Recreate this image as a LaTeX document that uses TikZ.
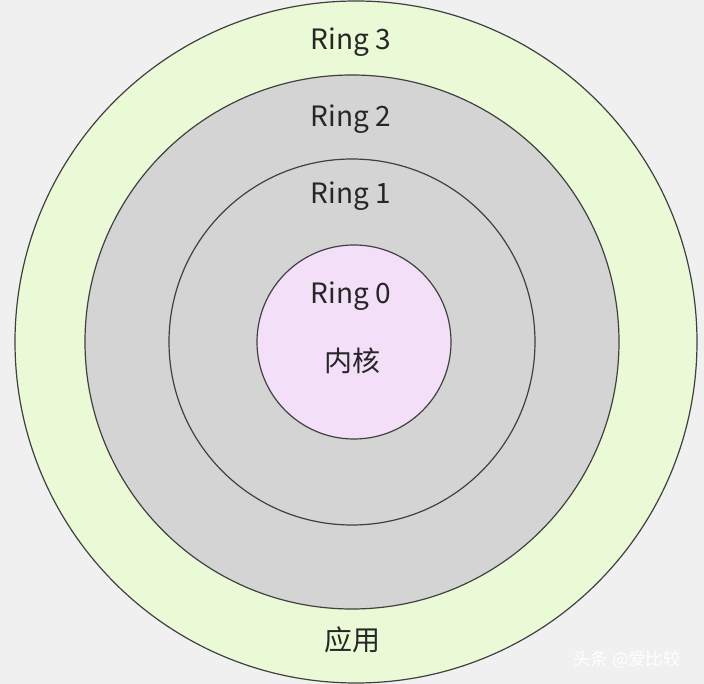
\documentclass[tikz,border=0pt]{standalone}
\usepackage{fontspec}
\setmainfont{Noto Sans CJK SC}
\begin{document}
\begin{tikzpicture}[x=0.75pt,y=-0.75pt,
  ring/.style={draw=black!75,line width=0.9pt},
  lbl/.style={font=\fontsize{21}{24}\selectfont,text=black!85}]
\useasboundingbox (0,0) rectangle (704,684);
\fill[black!6] (0,0) rectangle (704,684);
\node[ring,circle,fill={rgb,255:red,234;green,249;blue,214},minimum size=682*0.75pt,inner sep=0] (r3) at (356,342) {};
\node[ring,circle,fill={rgb,255:red,212;green,212;blue,212},minimum size=534*0.75pt,inner sep=0] (r2) at (352,342) {};
\node[ring,circle,fill={rgb,255:red,212;green,212;blue,212},minimum size=366*0.75pt,inner sep=0] (r1) at (352,342) {};
\node[ring,circle,fill={rgb,255:red,243;green,224;blue,248},minimum size=194*0.75pt,inner sep=0] (r0) at (354,342) {};
\node[lbl] (t3) at (351,42) {Ring 3};
\node[lbl] (t2) at (351,119) {Ring 2};
\node[lbl] (t1) at (351,196) {Ring 1};
\node[lbl] (t0) at (351,296) {Ring 0};
\node[lbl] (k) at (352,361) {内核};
\node[lbl] (app) at (352,640) {应用};
\node[font=\fontsize{13}{15}\selectfont,text=white] (wm) at (627,660) {头条 @爱比较};
\end{tikzpicture}
\end{document}
